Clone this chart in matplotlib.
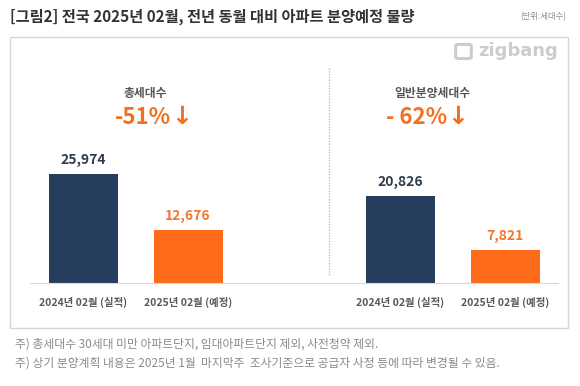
import matplotlib
matplotlib.use("Agg")
import matplotlib.pyplot as plt
from matplotlib.patches import Rectangle, FancyBboxPatch

plt.rcParams['font.family'] = ['Noto Sans CJK KR', 'DejaVu Sans']

# data
periods = ["2024년 02월 (실적)", "2025년 02월 (예정)"]
total_units = [25974, 12676]
general_units = [20826, 7821]
panel_titles = ["총세대수", "일반분양세대수"]
panel_changes = ["-51%", "- 62%"]

title = "[그림2] 전국 2025년 02월, 전년 동월 대비 아파트 분양예정 물량"
unit = "(단위:세대수)"
notes = [
    "주) 총세대수 30세대 미만 아파트단지, 임대아파트단지 제외, 사전청약 제외.",
    "주) 상기 분양계획 내용은 2025년 1월  마지막주  조사기준으로 공급자 사정 등에 따라 변경될 수 있음.",
]

NAVY = "#263d5e"
ORANGE = "#fd6a19"
W, H = 580, 386


def fx(x):
    return x / W


def fy(y):
    return 1 - y / H


fig = plt.figure(figsize=(W / 100, H / 100), dpi=100)
fig.patch.set_facecolor("white")

# frame
fig.add_artist(Rectangle((fx(10), fy(328)), fx(558), (328 - 37) / H,
                         transform=fig.transFigure, fill=False,
                         edgecolor="#d6d6d6", lw=1))

fig.text(fx(10), fy(17), title, fontsize=11, fontweight="bold",
         color="#333333", va="center", ha="left")
fig.text(fx(566), fy(17), unit, fontsize=6, color="#8c8c8c",
         va="center", ha="right")

# zigbang logo
fig.text(fx(558), fy(51), "zigbang", fontsize=13, fontweight="bold",
         color="#cccccc", va="center", ha="right", family="DejaVu Sans")
fig.add_artist(FancyBboxPatch((fx(458), fy(57)), fx(11), 11 / H,
                              boxstyle="round,pad=0.004",
                              transform=fig.transFigure, fill=False,
                              edgecolor="#cccccc", lw=2.2))

# dotted separator
fig.add_artist(plt.Line2D([fx(329), fx(329)], [fy(68), fy(275)],
                          transform=fig.transFigure, color="#bfbfbf",
                          lw=1, ls=(0, (1, 1))))

ymax = 223 * 25974 / 109
panels = [
    (total_units, 30, 270, 53, 145, 171),
    (general_units, 300, 258, 100, 432, 447),
]

for k, (vals, x0, w, c0, tx, px) in enumerate(panels):
    ax = fig.add_axes([fx(x0), fy(283), w / W, (283 - 60) / H])
    ax.set_xlim(-c0 / 105, (w - c0) / 105)
    ax.set_ylim(0, ymax)
    ax.bar([0, 1], vals, width=69 / 105, color=[NAVY, ORANGE])
    for i, v in enumerate(vals):
        ax.annotate(f"{v:,}", (i, v), xytext=(0, 5), textcoords="offset points",
                    ha="center", va="bottom", fontsize=10, fontweight="bold",
                    color="#2f3b4f" if i == 0 else "#f2772f")
    for s in ["top", "left", "right"]:
        ax.spines[s].set_visible(False)
    ax.spines["bottom"].set_color("#d9d9d9")
    ax.set_yticks([])
    ax.set_xticks([0, 1], periods)
    ax.tick_params(axis="x", length=0, pad=10, labelsize=7.5,
                   labelcolor="#595959")
    for lb in ax.get_xticklabels():
        lb.set_fontweight("bold")
    ax.patch.set_visible(False)

    fig.text(fx(tx), fy(93), panel_titles[k], fontsize=8.5, fontweight="bold",
             color="#555555", ha="center", va="center")
    fig.text(fx(px), fy(118), panel_changes[k], fontsize=16, fontweight="bold",
             color="#f37021", ha="right", va="center")
    fig.text(fx(px), fy(117), "↓", fontsize=18, fontweight="bold",
             color="#f37021", ha="left", va="center", family="DejaVu Sans")

fig.text(fx(15), fy(344), notes[0], fontsize=8.5, color="#8a8a8a",
         ha="left", va="center")
fig.text(fx(15), fy(363), notes[1], fontsize=8.5, color="#8a8a8a",
         ha="left", va="center")

fig.savefig("out.png", dpi=100)
